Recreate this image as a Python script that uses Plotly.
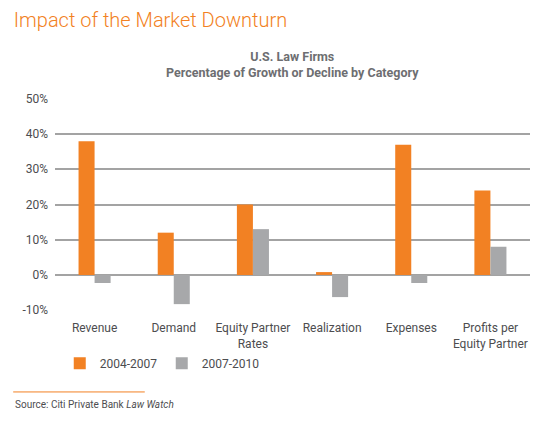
import plotly.graph_objects as go

# data
categories = ['Revenue', 'Demand', 'Equity Partner<br>Rates', 'Realization',
              'Expenses', 'Profits per<br>Equity Partner']
growth_2004_2007 = [38, 12, 20, 0.8, 37, 24]
growth_2007_2010 = [-2.3, -8.3, 13, -6.3, -2.3, 8]
y_ticks = [-10, 0, 10, 20, 30, 40, 50]
y_labels = [f'{v}%' for v in y_ticks]

orange = '#F28123'
grey = '#A7A8AA'
text_grey = '#6D6E71'

data = [
    go.Bar(x=categories, y=growth_2004_2007, name='2004-2007',
           marker=dict(color=orange, line=dict(width=0))),
    go.Bar(x=categories, y=growth_2007_2010, name='2007-2010',
           marker=dict(color=grey, line=dict(width=0))),
]

layout = go.Layout(
    template='none',
    width=549, height=423,
    margin=dict(l=55, r=19, t=98, b=112),
    paper_bgcolor='white', plot_bgcolor='white',
    font=dict(family='Roboto', color='#4D4D4F', size=12),
    title=dict(text='Impact of the Market Downturn', xref='container', yref='container',
               x=0.025, y=0.953, xanchor='left', yanchor='middle',
               font=dict(size=20, color=orange, weight=300)),
    barmode='group', bargap=0.595, bargroupgap=0,
    xaxis=dict(showgrid=False, showline=False, ticks='', zeroline=False,
               ticklabelstandoff=8, tickfont=dict(size=12)),
    yaxis=dict(range=[-10.25, 50.25], tickmode='array', tickvals=y_ticks, ticktext=y_labels,
               showgrid=True, gridcolor='#A3A3A3', gridwidth=1.5,
               zeroline=True, zerolinecolor='#A3A3A3', zerolinewidth=1.5,
               showline=False, ticks='', ticklabelstandoff=6,
               tickfont=dict(size=12)),
    legend=dict(orientation='h', x=0.01, y=-0.245, xanchor='left', yanchor='middle',
                itemwidth=30, entrywidth=57, entrywidthmode='pixels',
                bgcolor='rgba(0,0,0,0)', font=dict(size=12)),
    shapes=[dict(type='line', xref='paper', yref='paper', x0=-0.088, x1=0.189,
                 y0=-0.38, y1=-0.38, line=dict(color=orange, width=1))],
    annotations=[
        dict(text='<b>U.S. Law Firms</b><br><b>Percentage of Growth or Decline by Category</b>',
             xref='paper', yref='paper', x=0.5, y=1.155, showarrow=False,
             xanchor='center', yanchor='middle', font=dict(size=12.5, color=text_grey)),
        dict(text='Source: Citi Private Bank <i>Law Watch</i>', xref='paper', yref='paper',
             x=-0.088, y=-0.441, showarrow=False, xanchor='left', yanchor='middle',
             font=dict(size=10, color='#4D4D4F')),
    ],
)

fig = go.Figure(data=data, layout=layout)
fig.write_html('out.html', config={'displayModeBar': False},
               post_script="document.body.style.margin='0';")
